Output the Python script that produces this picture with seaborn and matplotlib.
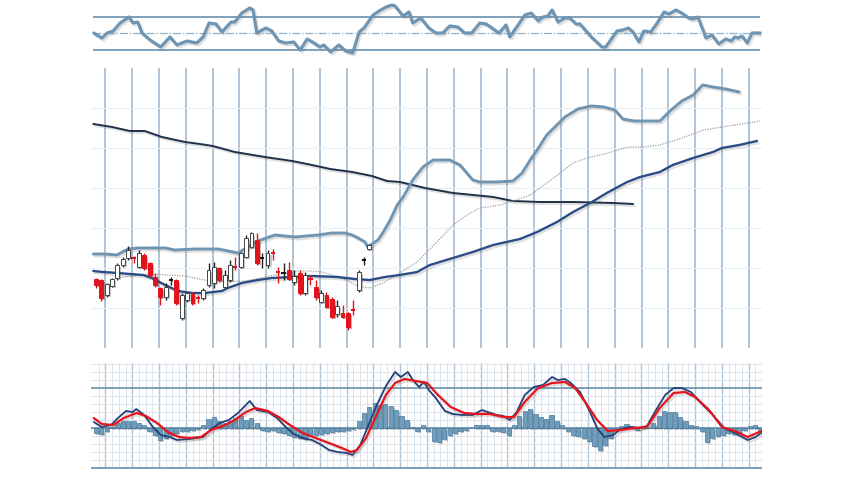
import numpy as np
import pandas as pd
import matplotlib
matplotlib.use("Agg")
import matplotlib.pyplot as plt
import matplotlib.patheffects as pe
import seaborn as sns

# ---- candles (one per session) ----
c_open = [22.1, 22.0, 20.5, 21.4, 22.2, 23.5, 24.2, 24.2, 23.3, 24.5,
          23.7, 22.3, 21.2, 20.3, 22.0, 22.0, 18.2, 20.0, 20.6, 20.2,
          20.2, 21.5, 21.7, 23.2, 21.3, 22.0, 23.3, 23.3, 24.3, 25.3,
          26.0, 24.2, 23.5, 24.7, 22.8, 22.7, 23.0, 21.8, 22.7, 20.7,
          22.1, 21.3, 19.8, 20.5, 20.1, 18.6, 18.7, 18.7, 19.0, 21.0,
          24.0, 25.1]
c_high = [22.2, 22.1, 21.7, 22.2, 23.7, 24.3, 25.4, 24.4, 25.0, 24.7,
          23.8, 22.7, 21.3, 21.7, 22.3, 22.1, 20.7, 20.8, 20.8, 20.5,
          21.2, 23.7, 23.8, 23.3, 23.0, 24.0, 24.3, 24.8, 26.5, 26.8,
          26.7, 24.7, 25.0, 25.1, 23.3, 23.7, 23.8, 23.0, 23.0, 22.8,
          22.5, 22.0, 21.0, 20.8, 20.3, 20.0, 19.5, 18.8, 20.0, 23.0,
          24.3, 25.6]
c_low = [21.2, 19.9, 20.3, 21.3, 22.0, 23.3, 24.0, 23.7, 23.2, 23.0,
         22.3, 21.3, 19.5, 20.0, 21.5, 19.5, 18.0, 19.8, 19.5, 19.7,
         20.0, 21.3, 21.2, 21.8, 21.2, 21.8, 23.0, 23.2, 24.2, 25.2,
         23.5, 23.2, 23.2, 24.0, 21.7, 22.0, 22.0, 21.5, 20.5, 20.5,
         21.5, 20.0, 19.7, 19.2, 18.2, 18.3, 18.2, 17.0, 18.5, 20.8,
         23.5, 25.0]
c_close = [21.5, 20.2, 21.6, 22.1, 23.5, 24.1, 25.0, 24.17, 24.7, 23.2,
           22.5, 21.5, 20.3, 21.3, 22.02, 19.7, 20.5, 20.7, 19.7, 20.17,
           21.0, 23.0, 23.3, 22.0, 22.5, 23.5, 23.27, 24.7, 26.2, 26.7,
           23.7, 24.23, 24.7, 24.67, 22.77, 22.73, 22.1, 22.4, 20.7, 22.5,
           22.07, 20.3, 20.7, 19.3, 18.3, 19.4, 18.3, 17.3, 18.97, 22.8,
           24.03, 25.5]

# ---- overlays on the price panel ----
long_ma_x = [-0.5, 3, 6.3, 9.1, 12.3, 16.6, 19.4, 21.8, 25.9, 31.5, 36.6, 40.3,
             43.7, 47.8, 51.5, 54.3, 56.7, 61.4, 66.6, 74.1, 77.8, 82.8, 89.0,
             96.5, 100.2]
long_ma_y = [37.6, 37.3, 36.9, 36.9, 36.3, 35.8, 35.6, 35.4, 34.8, 34.3, 33.9, 33.5,
             33.1, 32.8, 32.4, 31.9, 31.8, 31.2, 30.7, 30.3, 29.9, 29.8, 29.8,
             29.7, 29.6]

upper_x = [-0.5, 1.7, 3.9, 6.0, 7.8, 12.9, 14.7, 18.5, 22.8, 26.5, 30.2, 33.4, 37.1,
           41.4, 44.0, 46.5, 47.8, 48.9, 50.2, 50.7, 52.6, 53.5, 54.9, 56.2, 57.3,
           59.1, 61.0, 62.9, 66.0, 67.9, 70.3, 71.6, 74.8, 77.8, 79.5, 81.0, 82.3,
           84.1, 87.5, 89.9, 92.4, 94.8, 96.8, 98.3, 100.4, 105.2, 107.3, 109.3,
           111.4, 113.2, 115.1, 117.5, 120.0]
upper_y = [24.6, 24.6, 24.5, 25.1, 25.2, 25.2, 25.0, 25.1, 25.1, 24.7, 25.9, 26.5, 26.3,
           26.5, 26.7, 26.7, 26.5, 26.2, 25.8, 25.3, 26.0, 26.7, 28.0, 29.5, 30.3,
           32.0, 33.3, 34.0, 34.0, 33.5, 32.0, 31.8, 31.8, 31.9, 32.7, 34.0, 35.0,
           36.5, 38.3, 39.1, 39.4, 39.3, 39.0, 38.1, 37.9, 37.9, 39.0, 39.9,
           40.5, 41.5, 41.3, 41.1, 40.8]

mid_ma_x = [-0.5, 1.3, 4.1, 6.3, 8.8, 10.4, 12.9, 15.3, 17.9, 20.3, 23.5, 24.6, 27.2,
            30.2, 32.8, 36.6, 40.3, 45.1, 48.3, 51.1, 53.9, 56.7, 59.9, 62.3, 66.6,
            70.3, 74.1, 79.1, 82.3, 86.0, 89.0, 92.2, 95.3, 99.1, 101.5, 105.2,
            107.6, 111.4, 115.1, 116.8, 120.0, 123.3]
mid_ma_y = [22.9, 22.8, 22.7, 22.6, 22.5, 22.2, 21.5, 20.9, 20.7, 20.7, 20.9, 21.2, 21.7,
            22.0, 22.2, 22.3, 22.4, 22.3, 22.1, 22.0, 22.3, 22.5, 22.8, 23.5, 24.2,
            24.8, 25.5, 26.1, 26.8, 27.8, 28.8, 29.7, 30.7, 31.8, 32.3, 32.8,
            33.5, 34.2, 34.8, 35.2, 35.5, 35.9]

short_ma_x = [3.5, 10.1, 16.6, 22.2, 27.8, 33.4, 37.7, 40.3, 42.2, 44.6, 47.0, 48.9,
              51.1, 53.5, 56.7, 59.9, 63.6, 66.6, 69.2, 71.6, 75.4, 77.8, 81.0, 84.1,
              86.6, 89.0, 91.6, 95.5, 99.3, 102.1, 105.2, 109.3, 113.4, 116.8,
              121.6, 123.9]
short_ma_y = [22.2, 22.6, 22.4, 21.8, 21.9, 22.5, 22.9, 22.9, 22.8, 22.4, 21.9, 21.4,
              21.2, 21.7, 22.7, 23.8, 25.8, 27.5, 28.5, 29.2, 29.5, 29.9, 30.5, 31.7,
              32.7, 33.7, 34.2, 34.7, 35.3, 35.3, 35.5, 36.2, 37.0, 37.3,
              37.7, 37.9]

# ---- RSI (top panel) ----
rsi_x = [-0.4, 1.1, 2.1, 3.2, 4.5, 6.2, 6.9, 7.8, 8.6, 10.1, 12.1, 13.8, 15.1, 17.0,
         18.8, 20.0, 21.1, 22.4, 23.5, 25.2, 25.9, 27.2, 28.7, 29.3, 30.0, 31.7,
         32.8, 34.1, 35.4, 36.9, 38.1, 39.4, 40.7, 41.8, 42.5, 43.8, 45.3, 46.6,
         47.9, 49.1, 50.0, 51.7, 52.8, 54.1, 55.2, 55.8, 57.3, 58.4, 59.1, 60.6,
         62.1, 63.4, 64.7, 66.0, 67.5, 68.8, 70.1, 71.6, 72.8, 74.4, 75.2, 76.5,
         77.2, 78.5, 80.0, 81.2, 82.5, 83.4, 84.3, 85.1, 86.2, 87.5, 88.4, 89.6,
         90.3, 92.4, 94.4, 95.1, 97.2, 98.3, 99.3, 100.2, 101.3, 102.2, 103.5,
         104.7, 106.0, 106.9, 108.2, 109.3, 110.6, 111.4, 112.3, 113.8, 114.9,
         116.2, 117.5, 118.5, 119.2, 119.8, 120.5, 121.5, 122.4, 123.9]
rsi_y = [50.6, 44.5, 50.6, 53.0, 62.7, 70.0, 62.7, 63.9, 50.6, 42.1, 33.6, 45.8, 36.1, 40.9,
         38.5, 45.8, 62.7, 61.5, 51.8, 63.9, 63.9, 74.8, 80.9, 78.5, 50.6, 56.7,
         53.0, 40.9, 38.5, 39.7, 30.0, 43.3, 38.5, 33.6, 36.1, 27.6, 36.1, 28.8,
         26.4, 51.8, 56.7, 72.4, 77.3, 82.1, 84.5, 83.3, 71.2, 76.1, 62.7, 68.8,
         56.7, 50.6, 50.6, 59.1, 57.9, 50.6, 50.6, 62.7, 61.5, 54.2, 50.6, 60.3,
         45.8, 57.9, 72.4, 74.8, 65.2, 70.0, 71.2, 78.5, 63.9, 68.8, 68.8, 61.5,
         61.5, 45.8, 33.6, 33.6, 53.0, 54.2, 56.7, 51.8, 39.7, 53.0, 51.8,
         62.7, 76.1, 73.6, 78.5, 74.8, 68.8, 67.6, 70.0, 44.5, 48.2,
         37.3, 43.3, 40.9, 45.8, 44.5, 47.0, 38.5, 50.6, 50.6]

# ---- MACD (bottom panel) ----
macd_x = [-0.4, 1.1, 2.8, 4.1, 5.6, 6.9, 7.5, 9.0, 10.6, 12.1, 13.8, 15.1, 17.5, 20.0,
          21.5, 23.1, 24.8, 26.5, 27.6, 28.7, 30.0, 32.1, 33.8, 35.4, 36.9, 38.6,
          40.3, 41.8, 43.5, 45.1, 46.8, 47.9, 49.3, 50.7, 52.4, 54.1, 55.8, 56.9,
          58.2, 59.1, 60.3, 61.2, 62.1, 63.4, 65.1, 66.6, 68.3, 70.3, 72.0, 73.1,
          74.8, 76.1, 77.2, 78.5, 80.0, 81.7, 83.4, 85.1, 86.2, 87.5, 88.6, 90.3,
          92.0, 93.5, 94.8, 96.5, 97.9, 99.6, 101.3, 102.8, 104.5, 106.2, 107.8,
          109.3, 111.0, 112.7, 115.1, 117.2, 119.2, 121.6, 123.1, 124.6]
macd_y = [0.06, 0.01, 0.03, 0.10, 0.17, 0.16, 0.19, 0.13, 0.01, -0.07, -0.09, -0.12, -0.11,
          -0.09, -0.01, 0.05, 0.08, 0.15, 0.21, 0.27, 0.18, 0.16, 0.10, 0.01, -0.06,
          -0.10, -0.12, -0.16, -0.22, -0.24, -0.25, -0.27, -0.17, 0.01, 0.23, 0.42,
          0.56, 0.51, 0.56, 0.48, 0.41, 0.46, 0.38, 0.30, 0.17, 0.14, 0.13, 0.13,
          0.18, 0.16, 0.13, 0.12, 0.08, 0.16, 0.33, 0.41, 0.43, 0.51, 0.48, 0.49,
          0.45, 0.36, 0.18, 0.00, -0.09, -0.07, -0.01, 0.01, 0.00, 0.02, 0.18,
          0.33, 0.40, 0.40, 0.36, 0.26, 0.13, 0.00, -0.05, -0.12, -0.09, -0.03]
signal_x = [-0.4, 1.1, 3.2, 5.2, 7.6, 9.3, 11.4, 13.4, 15.5, 17.5, 19.6, 21.5, 24.1,
            25.9, 28.0, 29.7, 32.1, 34.1, 36.2, 38.6, 41.0, 43.5, 45.9, 47.6, 48.7,
            50.4, 52.1, 54.1, 55.8, 57.6, 59.7, 61.8, 63.8, 66.2, 68.7, 71.1, 73.5,
            76.1, 78.0, 80.0, 82.5, 85.1, 87.5, 89.4, 91.4, 93.5, 95.5, 97.9, 100.4,
            102.8, 105.2, 107.8, 109.9, 111.8, 114.4, 116.8, 119.2, 121.6, 124.6]
signal_y = [0.10, 0.04, 0.03, 0.10, 0.15, 0.12, 0.05, -0.04, -0.09, -0.10, -0.09, -0.02,
            0.03, 0.08, 0.16, 0.20, 0.17, 0.11, 0.03, -0.05, -0.10, -0.15, -0.20, -0.24,
            -0.22, -0.10, 0.10, 0.33, 0.45, 0.49, 0.47, 0.45, 0.33, 0.21, 0.15, 0.14,
            0.14, 0.11, 0.11, 0.26, 0.40, 0.45, 0.46, 0.40, 0.25, 0.08, -0.03, -0.02,
            0.00, 0.01, 0.20, 0.35, 0.36, 0.31, 0.18, 0.01, -0.03, -0.09, -0.02]
hist = [-0.05, -0.06, -0.03, 0.01, 0.05, 0.07, 0.07, 0.07, 0.05, 0.03,
        -0.03, -0.07, -0.12, -0.10, -0.07, -0.05, -0.03, -0.03, -0.02, -0.01,
        0.03, 0.09, 0.11, 0.07, 0.05, 0.07, 0.10, 0.12, 0.08, 0.10,
        0.05, -0.02, -0.03, -0.02, -0.04, -0.05, -0.07, -0.09, -0.10, -0.11,
        -0.08, -0.07, -0.06, -0.05, -0.04, -0.03, -0.03, -0.02, -0.01, 0.07,
        0.15, 0.21, 0.25, 0.23, 0.24, 0.22, 0.18, 0.12, 0.08, 0.01,
        -0.03, 0.03, -0.03, -0.13, -0.14, -0.11, -0.07, -0.05, -0.03, -0.02,
        0.00, 0.03, 0.03, 0.03, -0.03, -0.03, -0.04, -0.07, 0.03, 0.12,
        0.17, 0.19, 0.14, 0.11, 0.09, 0.13, 0.07, 0.03, -0.03, -0.07,
        -0.08, -0.10, -0.13, -0.18, -0.22, -0.17, -0.10, -0.02, 0.02, 0.04,
        0.02, -0.02, 0.01, 0.00, 0.05, 0.12, 0.17, 0.16, 0.16, 0.11,
        0.07, 0.03, 0.02, -0.03, -0.14, -0.10, -0.08, -0.07, -0.05, -0.06,
        -0.04, -0.02, 0.02, 0.03, -0.02]

sns.set_style("white")
fig = plt.figure(figsize=(8.52, 4.8), dpi=100)
W, H = 852, 480


def px_axes(x0, y0, x1, y1):
    return fig.add_axes([x0 / W, 1 - y1 / H, (x1 - x0) / W, (y1 - y0) / H])


ax_rsi = px_axes(91, 2, 762, 57)
ax = px_axes(91, 68, 762, 348)
ax_m = px_axes(91, 363, 762, 469)

xlim = (-0.93, 124.25)
grid_x = np.arange(1.77, 123, 5)
shadow = [pe.SimpleLineShadow(offset=(1.2, -1.5), shadow_color="#666666", alpha=0.2), pe.Normal()]

for a in (ax_rsi, ax, ax_m):
    a.set_xlim(*xlim)
    for s in a.spines.values():
        s.set_visible(False)
    a.tick_params(which="both", length=0, labelbottom=False, labelleft=False)

# ---- RSI panel ----
ax_rsi.set_ylim(21.5, 88.2)
ax_rsi.hlines([70, 30], -0.6, 123.9, color="#5b86a6", lw=1.1)
ax_rsi.hlines(50, -0.6, 123.9, color="#8fb0c8", lw=0.9, linestyles="-.")
sns.lineplot(x=rsi_x, y=rsi_y, ax=ax_rsi, color="#6e95b4", lw=2.3, sort=False,
             estimator=None, path_effects=shadow)

# ---- price panel ----
ax.set_ylim(15.2, 43.2)
ax.set_xticks(grid_x)
ax.set_yticks(np.arange(19.2, 40, 4))
ax.grid(axis="x", color="#a9bfd3", lw=1.3)
ax.grid(axis="y", color="#e8eef4", lw=0.8)
ax.set_axisbelow(True)

sns.lineplot(x=long_ma_x, y=long_ma_y, ax=ax, color="#1d3048", lw=1.4, sort=False,
             estimator=None, path_effects=shadow)
sns.lineplot(x=upper_x, y=upper_y, ax=ax, color="#6f95b2", lw=2.1, sort=False,
             estimator=None, path_effects=shadow)
sns.lineplot(x=short_ma_x, y=short_ma_y, ax=ax, color="#a0a0a0", lw=0.9, sort=False,
             estimator=None, linestyle=(0, (1, 1)))
sns.lineplot(x=mid_ma_x, y=mid_ma_y, ax=ax, color="#2b4c85", lw=1.7, sort=False,
             estimator=None, path_effects=shadow)

candles = pd.DataFrame({"o": c_open, "h": c_high, "l": c_low, "c": c_close})
candles["i"] = np.arange(len(candles))
red = "#e3121b"
up = candles["c"] >= candles["o"]
doji = (candles["c"] - candles["o"]).abs() < 0.1
wick_col = np.where(up, "#222222", red)
ax.vlines(candles["i"], candles["l"], candles["h"], colors=wick_col, lw=1.0, zorder=3)
body = candles[~doji]
bars = ax.bar(body["i"], body["c"] - body["o"], bottom=body["o"], width=0.72,
              color=np.where(body["c"] > body["o"], "white", red),
              edgecolor=np.where(body["c"] > body["o"], "#444444", red), lw=0.7, zorder=4)
for p in bars.patches:
    p.set_path_effects([pe.SimplePatchShadow(offset=(1.5, -1.5), alpha=0.3), pe.Normal()])
cross = candles[doji]
ax.hlines(cross["o"], cross["i"] - 0.4, cross["i"] + 0.4,
          colors=np.where(cross["c"] > cross["o"], "#111111", red), lw=1.4, zorder=4)

# ---- MACD panel ----
ax_m.set_ylim(-0.41, 0.65)
ax_m.set_xticks(grid_x)
ax_m.set_xticks(np.arange(grid_x[0] - 1.25, 125, 1.25), minor=True)
ax_m.set_yticks(np.arange(-0.40, 0.66, 0.08), minor=True)
ax_m.set_yticks([])
ax_m.grid(which="minor", color="#dce4ec", lw=0.7)
ax_m.grid(which="major", axis="x", color="#b3c6d7", lw=1.0)
ax_m.set_axisbelow(True)
ax_m.axhline(0.40, color="#5f8aa8", lw=1.1)
ax_m.axhline(0.0, color="#5f8aa8", lw=1.2)
ax_m.axhline(-0.40, color="#7ea2bd", lw=2.2)

hb = ax_m.bar(np.arange(len(hist)), hist, width=0.78, color="#6f9dbd", edgecolor="#4a7a9c",
              lw=0.5, zorder=2)
for p in hb.patches:
    p.set_path_effects([pe.SimplePatchShadow(offset=(1.2, -1.2), alpha=0.25), pe.Normal()])
sns.lineplot(x=macd_x, y=macd_y, ax=ax_m, color="#24407a", lw=1.3, sort=False,
             estimator=None, path_effects=shadow, zorder=3)
sns.lineplot(x=signal_x, y=signal_y, ax=ax_m, color="#e8141c", lw=1.6, sort=False,
             estimator=None, path_effects=shadow, zorder=4)

fig.savefig("out.png", dpi=100)
